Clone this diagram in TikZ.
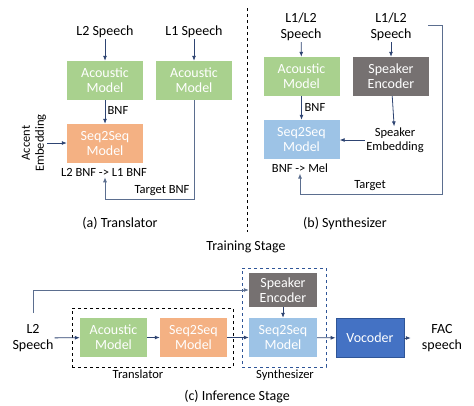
\documentclass[tikz,border=0pt]{standalone}
\usepackage{fontspec}
\setmainfont{Carlito}
\usetikzlibrary{arrows.meta}

\definecolor{amgreen}{HTML}{A9D18E}
\definecolor{s2sorange}{HTML}{F4B183}
\definecolor{s2sblue}{HTML}{9DC3E6}
\definecolor{spkgray}{HTML}{767171}
\definecolor{vocblue}{HTML}{4472C4}
\definecolor{vocborder}{HTML}{2F5597}
\definecolor{arrowblue}{HTML}{2E4472}
\definecolor{loopgray}{HTML}{5B6E8F}

\begin{document}
\begin{tikzpicture}[
x=1pt, y=-1pt,
box/.style={rectangle, text=white, minimum width=76pt, minimum height=39pt, align=center, inner sep=1pt, font=\fontsize{14}{15}\selectfont},
lbl/.style={align=center, inner sep=1pt, font=\fontsize{14}{16}\selectfont},
note/.style={align=center, inner sep=1pt, font=\fontsize{12.5}{14}\selectfont},
dashbox/.style={rectangle, draw, dashed, thick, minimum width=#1},
arrow/.style={-{Latex[length=5pt,width=4pt]}, draw=arrowblue, line width=0.8pt},
loop/.style={-{Latex[length=5pt,width=4pt]}, draw=loopgray, line width=0.8pt}
]
\useasboundingbox (0,0) rectangle (474,405);

% (a) translator
\node[lbl] (l2a) at (105,32) {L2 Speech};
\node[lbl] (l1a) at (194,32) {L1 Speech};
\node[box, fill=amgreen] (am1) at (105,80.5) {Acoustic\\Model};
\node[box, fill=amgreen] (am2) at (194,80.5) {Acoustic\\Model};
\node[box, fill=s2sorange] (s2s1) at (105,143.5) {Seq2Seq\\Model};
\node[note, rotate=90] (accent) at (34,143) {Accent\\Embedding};
\node[note] (bnf1) at (118,110) {BNF};
\node[note] (map1) at (104,172) {L2 BNF -> L1 BNF};
\node[note] (tbnf) at (162,191) {Target BNF};

\draw[arrow] (l2a) -- (am1);
\draw[arrow] (l1a) -- (am2);
\draw[arrow] (am1) -- (s2s1);
\draw[arrow] (accent.south) -- (accent.south -| s2s1.west);
\draw[loop] (am2.south) -- ++(0,99) -| (s2s1.south |- map1.south);

\draw[dashed, thick] (247,8) -- (247,232);

% (b) synthesizer
\node[lbl] (l12a) at (301,27) {L1/L2\\Speech};
\node[lbl] (l12b) at (391,27) {L1/L2\\Speech};
\node[box, fill=amgreen] (am3) at (301.5,76.5) {Acoustic\\Model};
\node[box, fill=spkgray] (spk1) at (391,76.5) {Speaker\\Encoder};
\node[box, fill=s2sblue] (s2s2) at (301.5,139.5) {Seq2Seq\\Model};
\node[note] (bnf2) at (315,107) {BNF};
\node[note] (spkemb) at (395,140) {Speaker\\Embedding};
\node[note] (map2) at (300,168) {BNF -> Mel};
\node[note] (tgt) at (370,186) {Target};
\coordinate (tstart) at (428,25);

\draw[arrow] (l12a) -- (am3);
\draw[arrow] (l12b) -- (spk1);
\draw[arrow] (am3) -- (s2s2);
\draw[arrow] (spk1) -- (spkemb);
\draw[arrow] (spkemb) -- (spkemb -| s2s2.east);
\draw[loop] (tstart) -- ++(14,0) -- ++(0,169) -| (map2.south);

\node[lbl] (capa) at (120,223) {(a) Translator};
\node[lbl] (capb) at (345,224) {(b) Synthesizer};
\node[lbl] (train) at (246,247) {Training Stage};

% (c) inference
\node[lbl] (l2c) at (33,338) {L2\\Speech};
\node[box, fill=amgreen, minimum width=67pt] (am4) at (113.5,337.5) {Acoustic\\Model};
\node[box, fill=s2sorange, minimum width=67pt] (s2s3) at (193.5,337.5) {Seq2Seq\\Model};
\node[box, fill=spkgray, minimum width=68pt, minimum height=34pt] (spk2) at (283,290) {Speaker\\Encoder};
\node[box, fill=s2sblue, minimum width=68pt] (s2s4) at (283,337.5) {Seq2Seq\\Model};
\node[box, fill=vocblue, draw=vocborder, thick, minimum width=68pt] (voc) at (370,338) {Vocoder};
\node[lbl] (fac) at (442,338) {FAC\\speech};
\node[dashbox=161pt, minimum height=59pt] (trbox) at (152.5,337.5) {};
\node[dashbox=84pt, minimum height=99pt, draw=vocborder] (synbox) at (284,317.5) {};
\node[note] (trlbl) at (138,374) {Translator};
\node[note] (synlbl) at (285,375) {Synthesizer};
\node[lbl] (capc) at (237,397) {(c) Inference Stage};

\draw[arrow] (l2c) -- (am4);
\draw[loop] ([yshift=10pt]l2c.north) |- (spk2.west);
\draw[arrow] (am4) -- (s2s3);
\draw[arrow] (s2s3) -- (s2s4);
\draw[arrow] (spk2) -- (s2s4);
\draw[arrow] (s2s4) -- (voc);
\draw[arrow, shorten >=10pt] (voc) -- (fac);

\end{tikzpicture}
\end{document}
